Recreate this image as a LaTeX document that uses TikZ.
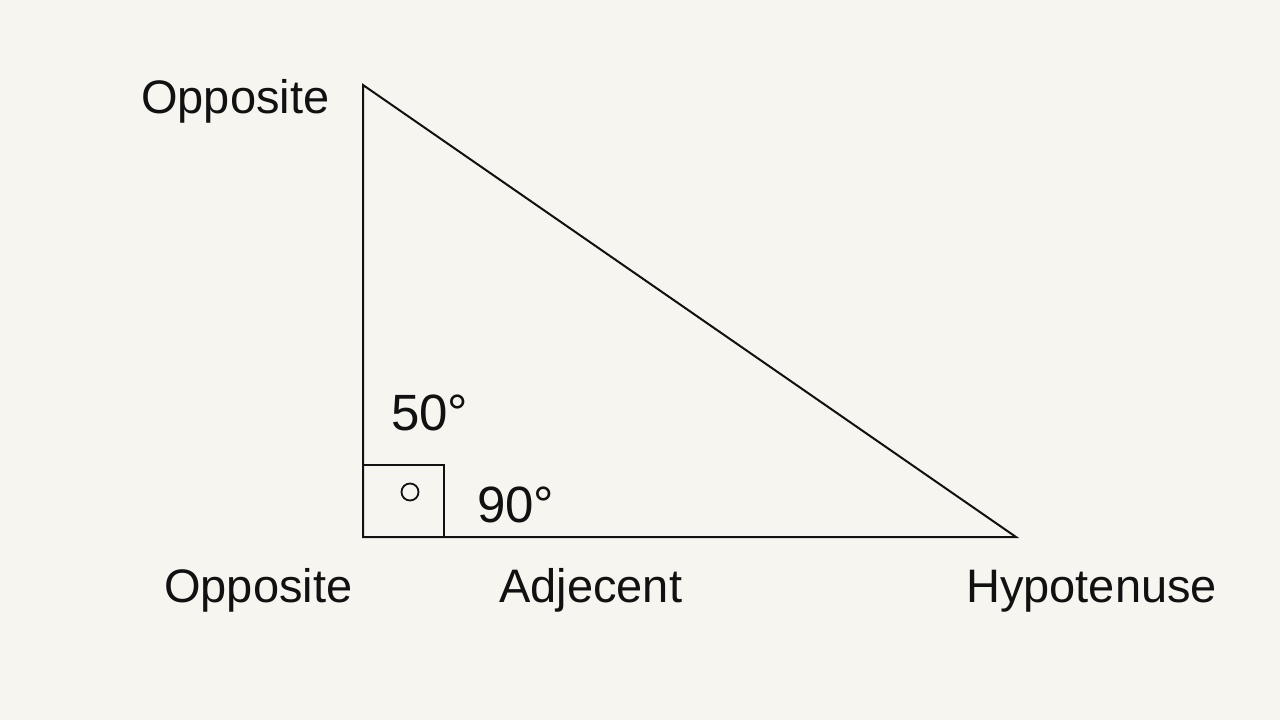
\documentclass[tikz,border=0pt]{standalone}
\usepackage{fontspec}
\setmainfont{Liberation Sans}
\definecolor{bg}{HTML}{F7F5F0}
\definecolor{ink}{HTML}{111111}
\begin{document}
\begin{tikzpicture}[x=1pt,y=-1pt,
  edge/.style={draw=ink,line width=2pt,line join=miter},
  lbl/.style={anchor=base west,inner sep=0pt,text=ink,font=\fontsize{47}{50}\selectfont},
  ang/.style={anchor=base west,inner sep=0pt,text=ink,font=\fontsize{51}{54}\selectfont}]
\fill[bg] (0,0) rectangle (1280,720);
\useasboundingbox (0,0) rectangle (1280,720);
\coordinate (T) at (363,85);
\coordinate (B) at (363,537);
\coordinate (R) at (1016,537);
\draw[edge] (T) -- (B) -- (R) -- cycle;
\coordinate (S1) at (363,465);
\coordinate (S2) at (444,537);
\draw[edge] (S1) -| (S2);
\node[draw=ink,line width=1.8pt,circle,minimum size=17pt,inner sep=0pt] (deg) at (410,492) {};
\node[lbl] (opTop) at (141,113) {Opposite};
\node[lbl] (opBot) at (164,602) {Opposite};
\node[lbl] (adj) at (499,602) {Adjecent};
\node[lbl] (hyp) at (966,602) {Hypotenuse};
\node[ang] (a50) at (391,430) {50°};
\node[ang] (a90) at (477,522) {90°};
\end{tikzpicture}
\end{document}
